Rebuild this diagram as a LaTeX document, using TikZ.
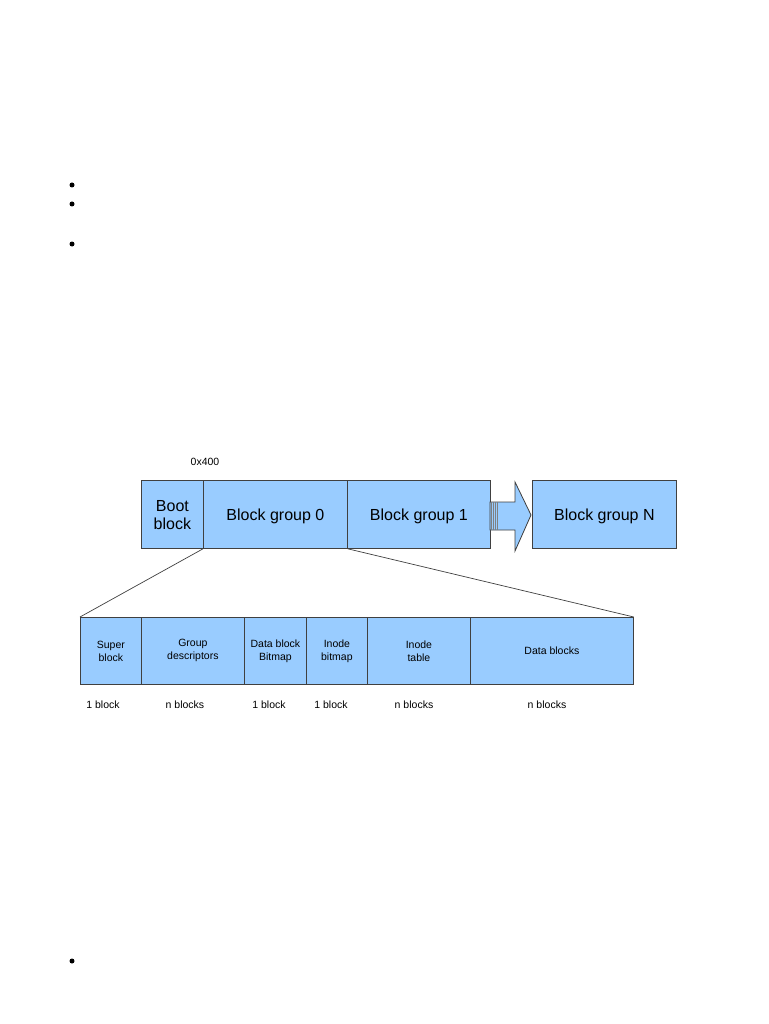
\documentclass[tikz,border=0pt]{standalone}
\usepackage{fontspec}
\setmainfont{Liberation Sans}
\begin{document}
\begin{tikzpicture}[x=1pt,y=-1pt,
  blk/.style={draw=black!75,line width=0.8pt,fill=blueF,inner sep=0pt,anchor=north west},
  big/.style={font=\fontsize{16}{18}\selectfont,align=center},
  small/.style={font=\fontsize{10.5}{13}\selectfont,align=center},
  lbl/.style={font=\fontsize{10.5}{13}\selectfont},
  bul/.style={circle,fill=black,inner sep=0pt,minimum size=5pt}]
\definecolor{blueF}{HTML}{99CCFF}
\useasboundingbox (0,0) rectangle (768,1024);
\fill[white] (0,0) rectangle (768,1024);
% bullets
\node[bul] (b1) at (72,185) {};
\node[bul] (b2) at (72,204) {};
\node[bul] (b3) at (72,244) {};
\node[bul] (b4) at (72,961) {};
% top row
\node[lbl] (off) at (205,462) {0x400};
\node[blk,minimum width=62pt,minimum height=68pt] (boot) at (141,480) {};
\node[big] at ([yshift=-1pt]boot.center) {Boot\\block};
\node[blk,minimum width=144pt,minimum height=68pt] (bg0) at (203,480) {};
\node[big] at ([yshift=-2pt]bg0.center) {Block group 0};
\node[blk,minimum width=143pt,minimum height=68pt] (bg1) at (347,480) {};
\node[big] at ([yshift=-2pt]bg1.center) {Block group 1};
\node[blk,minimum width=144pt,minimum height=68pt] (bgn) at (532,480) {};
\node[big] at ([yshift=-2pt]bgn.center) {Block group N};
% striped arrow
\draw[draw=black!75,line width=0.8pt,fill=blueF] (490,502) -- (515,502) -- (515,482) -- (531,515) -- (515,551) -- (515,530) -- (490,530) -- cycle;
\foreach \xx in {491.5,493.5,495.5,497.5}
  \draw[black!50,line width=0.7pt] (\xx,502) -- (\xx,530);
% lower row
\node[blk,minimum width=61pt,minimum height=67pt] (sb) at (80,617) {};
\node[small] at (sb.center) {Super\\block};
\node[blk,minimum width=103pt,minimum height=67pt] (gd) at (141,617) {};
\node[small] at (gd.center) {Group\\descriptors};
\node[blk,minimum width=62pt,minimum height=67pt] (dbb) at (244,617) {};
\node[small] at (dbb.center) {Data block\\Bitmap};
\node[blk,minimum width=61pt,minimum height=67pt] (ib) at (306,617) {};
\node[small] at (ib.center) {Inode\\bitmap};
\node[blk,minimum width=103pt,minimum height=67pt] (it) at (367,617) {};
\node[small] at (it.center) {Inode\\table};
\node[blk,minimum width=163pt,minimum height=67pt] (db) at (470,617) {};
\node[small,anchor=center] at (db.center) {Data blocks};
% zoom lines
\draw[black!75,line width=0.7pt] (bg0.south west) -- (sb.north west);
\draw[black!75,line width=0.7pt] (bg0.south east) -- (db.north east);
% size labels
\node[lbl] (l1) at (103,705) {1 block};
\node[lbl] (l2) at (185,705) {n blocks};
\node[lbl] (l3) at (269,705) {1 block};
\node[lbl] (l4) at (331,705) {1 block};
\node[lbl] (l5) at (414,705) {n blocks};
\node[lbl] (l6) at (547,705) {n blocks};
\end{tikzpicture}
\end{document}
